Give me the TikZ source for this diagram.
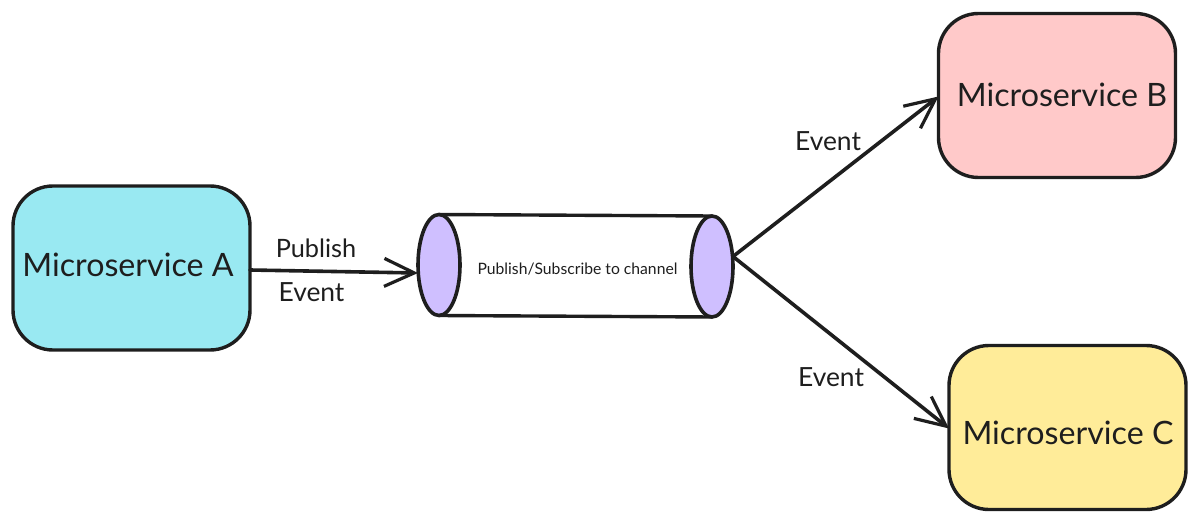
\documentclass[tikz,border=0pt]{standalone}
\usepackage{fontspec}
\setmainfont{Lato}
\usetikzlibrary{arrows.meta,shapes.geometric}
\definecolor{ink}{HTML}{1E1E1E}
\definecolor{cyanfill}{HTML}{99E9F2}
\definecolor{pinkfill}{HTML}{FFC9C9}
\definecolor{yellowfill}{HTML}{FFEC99}
\definecolor{purplefill}{HTML}{CFBFFF}
\tikzset{
  svcbox/.style={draw=ink,line width=3.4pt,rounded corners=40pt,minimum width=237pt,minimum height=164pt,inner sep=0pt,outer sep=0pt},
  svctext/.style={text=ink,font=\fontsize{32.2}{38}\selectfont,inner sep=0pt},
  flowlabel/.style={text=ink,font=\fontsize{26.4}{30}\selectfont,inner sep=0pt},
  publabel/.style={text=ink,font=\fontsize{25.3}{30}\selectfont,inner sep=0pt},
  smalllabel/.style={text=ink,font=\fontsize{15.7}{20}\selectfont,inner sep=0pt},
  capend/.style={draw=ink,line width=3.6pt,shape=ellipse,minimum width=42pt,minimum height=101pt,inner sep=0pt,outer sep=0pt,fill=purplefill},
  tube/.style={draw=ink,line width=3.4pt,line cap=round},
  flow/.style={draw=ink,line width=3.6pt,line cap=round,-{Straight Barb[length=30pt,width=28pt,line width=3.2pt]}},
}
\begin{document}
\begin{tikzpicture}[x=1pt,y=-1pt]
\useasboundingbox (0,0) rectangle (1200,524);
\node[svcbox,fill=cyanfill] (A) at (131.5,268) {};
\node[svcbox,fill=pinkfill] (B) at (1057,95.5) {};
\node[svcbox,fill=yellowfill] (C) at (1067.5,427.5) {};
\node[svctext] (Atext) at (128,265) {Microservice A};
\node[svctext] (Btext) at (1062,95) {Microservice B};
\node[svctext] (Ctext) at (1068,433) {Microservice C};
\node[capend] (L) at (439,265) {};
\node[capend] (R) at (712,266.5) {};
\draw[tube] (L.north) -- (R.north);
\draw[tube] (L.south) -- (R.south);
\node[smalllabel] (chan) at (577.5,269) {Publish/Subscribe to channel};
\draw[flow] ([yshift=-2pt]A.east) -- ([yshift=-8pt]L.west);
\draw[flow] ([yshift=10pt]R.east) -- ([yshift=-1pt]B.west);
\draw[flow] ([yshift=10pt]R.east) -- ([yshift=-1pt]C.west);
\node[publabel] (pub) at (316,248) {Publish};
\node[flowlabel] (ev1) at (311.5,292) {Event};
\node[flowlabel] (ev2) at (828,141) {Event};
\node[flowlabel] (ev3) at (831,377) {Event};
\end{tikzpicture}
\end{document}
